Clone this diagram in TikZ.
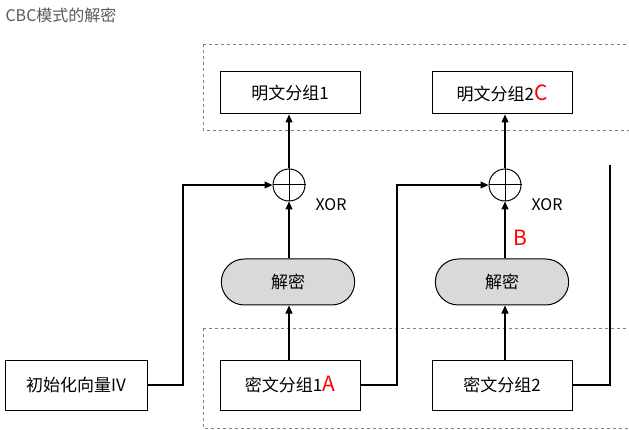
\documentclass[tikz,border=0pt]{standalone}
\usepackage{fontspec}
\setmainfont{Noto Sans CJK SC}
\usetikzlibrary{arrows.meta,shapes.misc}
\begin{document}
\begin{tikzpicture}[x=1pt,y=-1pt,
  box/.style={draw,line width=1pt,minimum width=140pt,minimum height=42pt,inner sep=0pt,font=\fontsize{17}{20}\selectfont},
  dec/.style={draw,line width=1pt,fill=gray!30,rounded rectangle,minimum width=140pt,minimum height=46pt,font=\fontsize{17}{20}\selectfont},
  xorc/.style={draw,line width=1pt,circle,minimum size=32pt,inner sep=0pt},
  arr/.style={draw,line width=1.2pt,-{Triangle[length=8pt,width=7pt]}},
  dbox/.style={draw,gray,dashed,line width=0.6pt},
  red/.style={text=red,font=\fontsize{21}{24}\selectfont}]
\useasboundingbox (0,0) rectangle (629,430);
\node[anchor=west,gray!70!black,font=\fontsize{16}{18}\selectfont] (title) at (2,15) {CBC模式的解密};
\draw[dbox] (203,44) -- (629,44) (203,44) -- (203,130) -- (629,130);
\draw[dbox] (203,328) -- (629,328) (203,328) -- (203,428) -- (629,428);
\node[box] (p1) at (290,93) {明文分组1};
\node[box] (p2) at (502,93) {明文分组2\textcolor{red}{\fontsize{21}{24}\selectfont C}};
\node[xorc] (x1) at (289,185) {};
\node[xorc] (x2) at (505,185) {};
\draw[line width=1pt] (x1.north)--(x1.south) (x1.west)--(x1.east);
\draw[line width=1pt] (x2.north)--(x2.south) (x2.west)--(x2.east);
\node[font=\fontsize{16}{18}\selectfont] (xl1) at (331,205) {XOR};
\node[font=\fontsize{16}{18}\selectfont] (xl2) at (547,205) {XOR};
\node[red] (B) at (520,238) {B};
\node[dec] (d1) at (288,282) {解密};
\node[dec] (d2) at (502,282) {解密};
\node[box,minimum height=50pt] (c1) at (290,385) {密文分组1\textcolor{red}{\fontsize{21}{24}\selectfont A}};
\node[box,minimum height=50pt] (c2) at (502,385) {密文分组2};
\node[box,minimum width=142pt,minimum height=50pt] (iv) at (76,385) {初始化向量IV};
\draw[arr] (c1.north -| x1) -- (d1.south -| x1);
\draw[arr] (d1.north -| x1) -- (x1.south);
\draw[arr] (x1.north) -- (p1.south -| x1);
\draw[arr] (c2.north -| x2) -- (d2.south -| x2);
\draw[arr] (d2.north -| x2) -- (x2.south);
\draw[arr] (x2.north) -- (p2.south -| x2);
\draw[arr] (iv.east) -- (183,385) -- (183,185) -- (x1.west);
\draw[arr] (c1.east) -- (397,385) -- (397,185) -- (x2.west);
\draw[line width=1.2pt] (c2.east) -- (610,385) -- (610,165);
\end{tikzpicture}
\end{document}
